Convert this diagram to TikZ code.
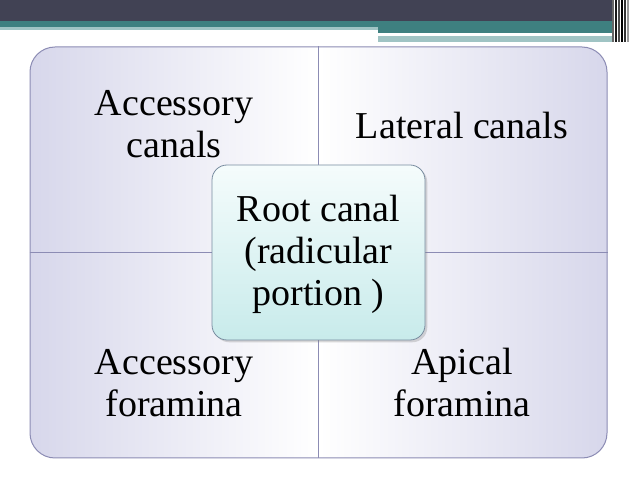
\documentclass[tikz,border=0pt]{standalone}
\usepackage{fontspec}
\setmainfont{Liberation Serif}
\usetikzlibrary{shadows}
\definecolor{hdark}{RGB}{65,66,84}
\definecolor{hteal}{RGB}{62,128,128}
\definecolor{hlight}{RGB}{160,196,196}
\definecolor{edgec}{RGB}{140,140,180}
\definecolor{sidec}{RGB}{215,215,235}
\definecolor{cedge}{RGB}{120,140,160}
\definecolor{ctop}{RGB}{245,252,252}
\definecolor{cbot}{RGB}{200,235,235}
\begin{document}
\begin{tikzpicture}[x=1pt,y=-1pt,
  lbl/.style={align=center,font=\fontsize{38}{42}\selectfont,inner sep=0pt}]
\useasboundingbox (0,0) rectangle (638,478);
\fill[white] (0,0) rectangle (638,478);
% header bars
\fill[hdark] (0,0) rectangle (612,21);
\fill[hteal] (0,21) rectangle (612,27);
\fill[hlight] (0,27) rectangle (378,30);
\fill[hteal] (378,27) rectangle (612,33);
\fill[hlight] (378,36) rectangle (612,42);
\fill[white] (378,33) rectangle (592,35);
\foreach \xx/\shade in {612/60,615/90,618/70,621/100,624/80,627/40}
  \fill[black!\shade!white] (\xx,0) rectangle (\xx+2,42);
% main box
\node[draw=edgec,line width=1pt,rounded corners=25pt,
  minimum width=577,minimum height=411,inner sep=0pt,
  left color=sidec,right color=sidec,middle color=white] (main) at (318.5,252.5) {};
\draw[edgec,line width=0.8pt] (main.north) -- (main.south);
\draw[edgec,line width=0.8pt] (main.west) -- (main.east);
% center
\node[draw=cedge,line width=0.8pt,rounded corners=15pt,
  minimum width=213,minimum height=175,inner sep=0pt,
  top color=ctop,bottom color=cbot,
  drop shadow={opacity=0.3}] (c) at (318.5,252.5) {};
\node[lbl] (ct) at (318.5,254) {Root canal\\(radicular\\portion )};
\node[lbl] (tl) at (174,124) {Accessory\\canals};
\node[lbl] (tr) at (462,126) {Lateral canals};
\node[lbl] (bl) at (174,383) {Accessory\\foramina};
\node[lbl] (br) at (462,383) {Apical\\foramina};
\end{tikzpicture}
\end{document}
